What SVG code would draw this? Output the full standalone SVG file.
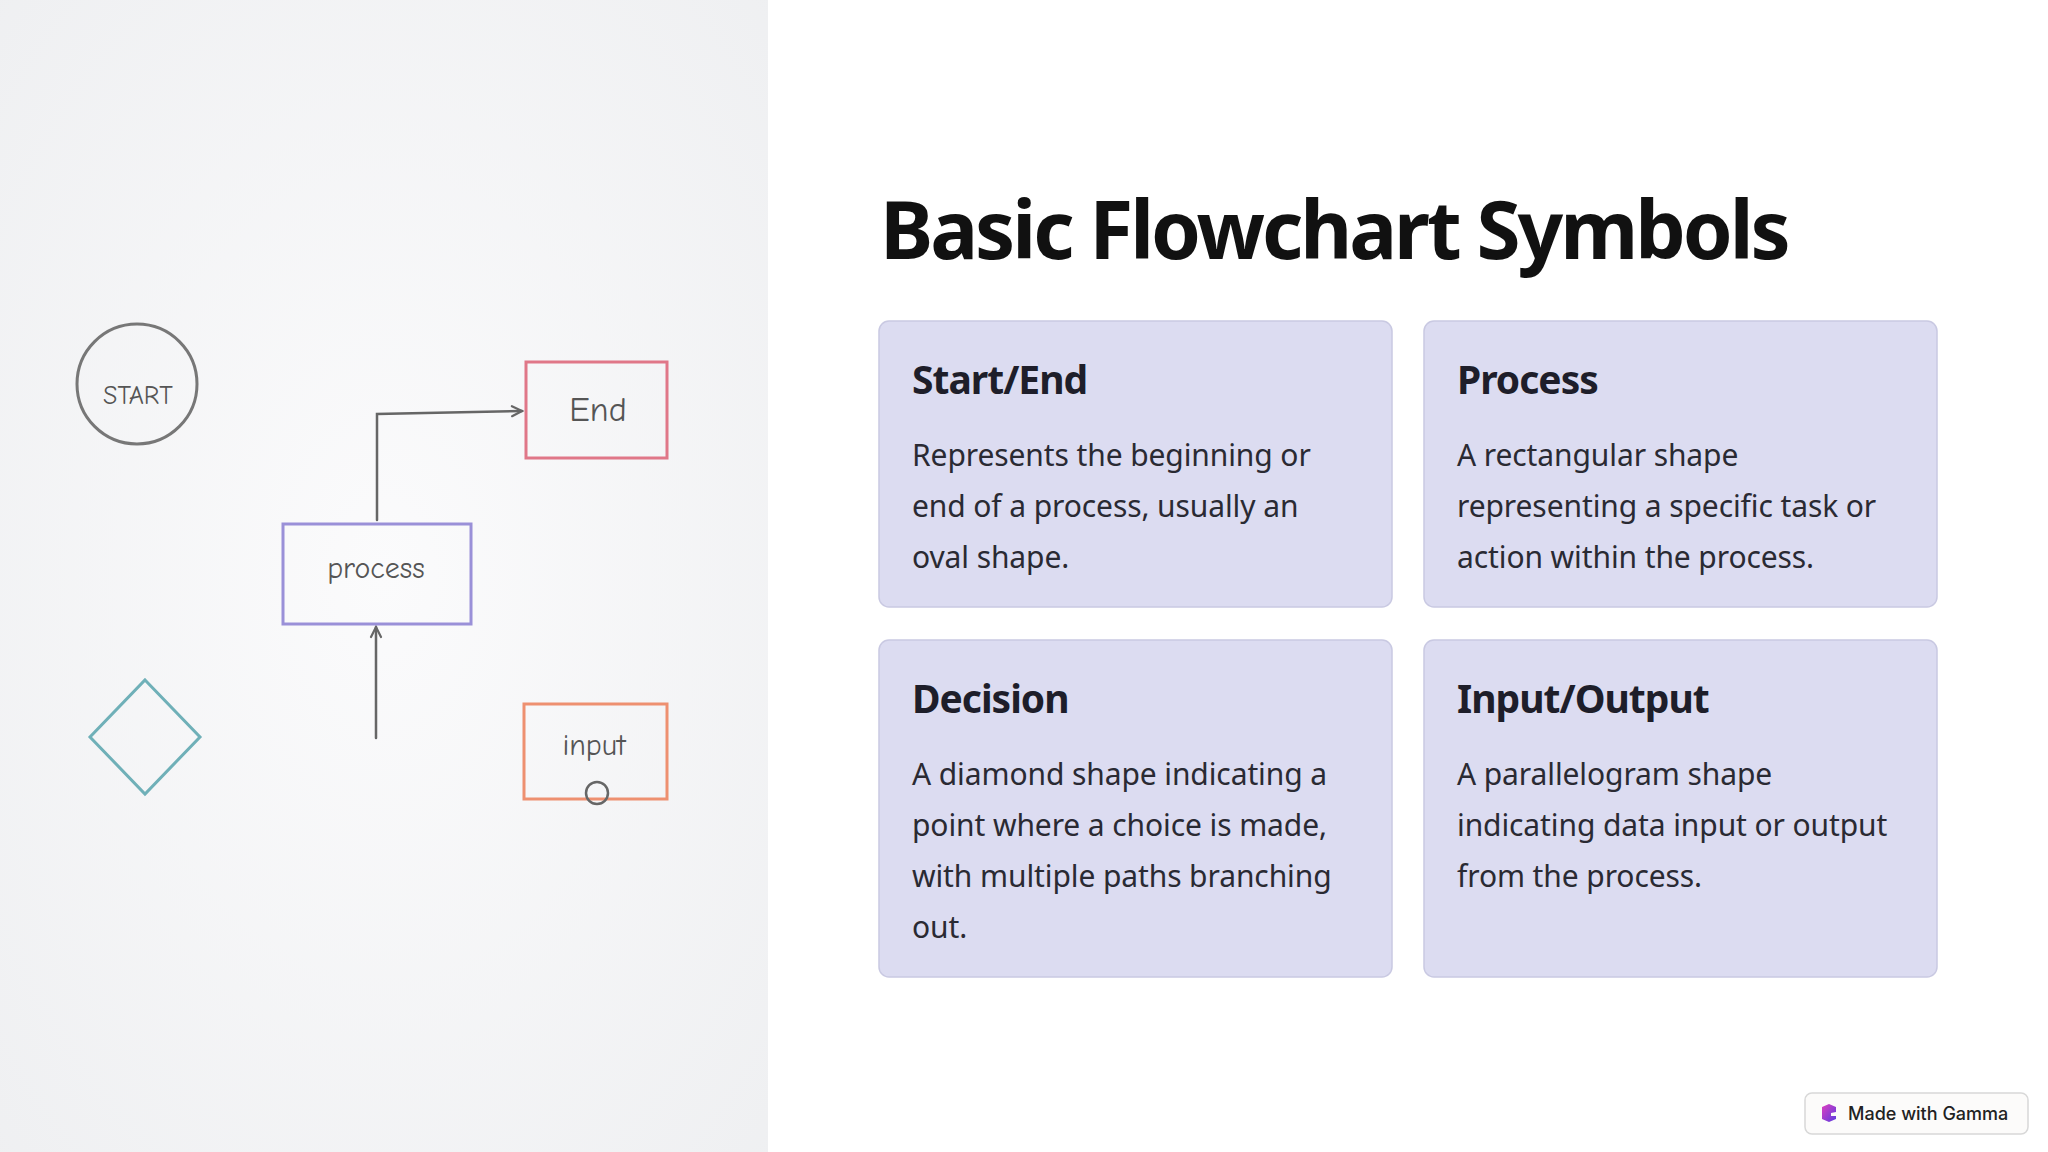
<svg xmlns="http://www.w3.org/2000/svg" width="2048" height="1152" viewBox="0 0 2048 1152">
<defs>
<radialGradient id="bg" cx="0.5" cy="0.5" r="0.75">
<stop offset="0" stop-color="#fbfbfc"/><stop offset="1" stop-color="#eeeff1"/>
</radialGradient>
<marker id="ah" markerWidth="14" markerHeight="14" refX="12" refY="7" orient="auto" markerUnits="userSpaceOnUse">
<path d="M2,2 L12,7 L2,12" fill="none" stroke="#666" stroke-width="2.2" stroke-linecap="round"/>
</marker>
<linearGradient id="gm" x1="0" y1="0" x2="1" y2="1"><stop offset="0" stop-color="#e040c0"/><stop offset="1" stop-color="#5a3ae0"/></linearGradient>
</defs>
<style>
.hand{font-family:"Comic Neue","Noto Sans",sans-serif;fill:#555;}
.card{fill:#dcdcf1;stroke:#c9c9e2;stroke-width:1.5;}
.h{font-family:"Noto Sans",sans-serif;font-weight:700;font-size:39px;fill:#1e1e2a;letter-spacing:-1px;}
.b{font-family:"Noto Sans",sans-serif;font-size:30px;fill:#2a2a33;letter-spacing:-0.1px;}
</style>
<rect width="2048" height="1152" fill="#ffffff"/>
<rect width="768" height="1152" fill="url(#bg)"/>
<g id="connectors" fill="none" stroke="#666" stroke-width="2.5" stroke-linecap="round">
<path d="M377,520 L377,414 L522,411" marker-end="url(#ah)"/>
<path d="M376,738 L376,627" marker-end="url(#ah)"/>
</g>
<g id="start"><circle cx="137" cy="384" r="60" fill="none" stroke="#777" stroke-width="3"/><text x="138" y="404" class="hand" font-size="26" text-anchor="middle">START</text></g>
<g id="end"><rect x="526" y="362" width="141" height="96" fill="none" stroke="#e07788" stroke-width="3"/><text x="598" y="421" class="hand" font-size="34" text-anchor="middle">End</text></g>
<g id="process"><rect x="283" y="524" width="188" height="100" fill="none" stroke="#9a90d8" stroke-width="3"/><text x="376" y="578" class="hand" font-size="30" text-anchor="middle">process</text></g>
<g id="decision"><path d="M145,680 L200,737 L145,794 L90,737 Z" fill="none" stroke="#6fb0b8" stroke-width="3"/></g>
<g id="input"><rect x="524" y="704" width="143" height="95" fill="none" stroke="#ee9070" stroke-width="3"/><text x="594" y="755" class="hand" font-size="30" text-anchor="middle">input</text><circle cx="597" cy="793" r="11" fill="none" stroke="#666" stroke-width="2.5"/></g>
<text x="880" y="259" font-family="Noto Sans, sans-serif" font-weight="700" font-size="80" fill="#111" letter-spacing="-3">Basic Flowchart Symbols</text>
<g id="card-startend"><rect x="879" y="321" width="513" height="286" rx="10" class="card"/>
<text x="912" y="394" class="h">Start/End</text>
<text class="b"><tspan x="912" y="466">Represents the beginning or</tspan><tspan x="912" y="517">end of a process, usually an</tspan><tspan x="912" y="568">oval shape.</tspan></text></g>
<g id="card-process"><rect x="1424" y="321" width="513" height="286" rx="10" class="card"/>
<text x="1457" y="394" class="h">Process</text>
<text class="b"><tspan x="1457" y="466">A rectangular shape</tspan><tspan x="1457" y="517">representing a specific task or</tspan><tspan x="1457" y="568">action within the process.</tspan></text></g>
<g id="card-decision"><rect x="879" y="640" width="513" height="337" rx="10" class="card"/>
<text x="912" y="713" class="h">Decision</text>
<text class="b"><tspan x="912" y="785">A diamond shape indicating a</tspan><tspan x="912" y="836">point where a choice is made,</tspan><tspan x="912" y="887">with multiple paths branching</tspan><tspan x="912" y="938">out.</tspan></text></g>
<g id="card-io"><rect x="1424" y="640" width="513" height="337" rx="10" class="card"/>
<text x="1457" y="713" class="h">Input/Output</text>
<text class="b"><tspan x="1457" y="785">A parallelogram shape</tspan><tspan x="1457" y="836">indicating data input or output</tspan><tspan x="1457" y="887">from the process.</tspan></text></g>
<g id="badge"><rect x="1805" y="1093" width="223" height="41" rx="7" fill="#fcfbfa" stroke="#d8d8d8" stroke-width="1.5"/>
<path d="M1822,1107 L1829,1104 L1829,1122 L1822,1119 Z M1829,1104 L1836,1107 L1836,1112 L1831,1113 L1831,1116 L1836,1116 L1836,1119 L1829,1122 Z" fill="url(#gm)"/>
<text x="1848" y="1120" font-family="Inter, sans-serif" font-weight="500" font-size="18" fill="#222">Made with Gamma</text></g>
</svg>
